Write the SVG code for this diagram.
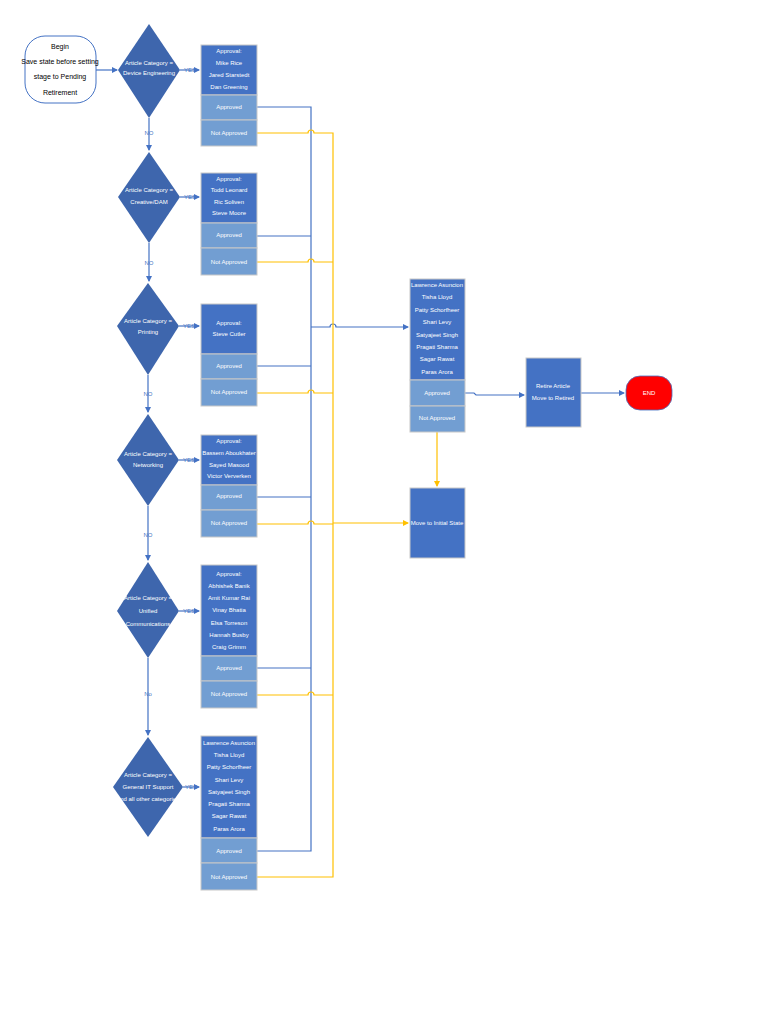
<svg xmlns="http://www.w3.org/2000/svg" width="768" height="1024" viewBox="0 0 768 1024">
<defs>
<style>
text{font-family:"Liberation Sans",Arial,sans-serif;fill:#fff;font-size:6px;text-anchor:middle}
.dia{fill:#3e66ad}
.top{fill:#4472c4;stroke:#c8c8c8;stroke-width:1}
.sub{fill:#729ed2;stroke:#c8c8c8;stroke-width:1}
.b{stroke:#4472c4;stroke-width:1.2;fill:none}
.y{stroke:#ffc000;stroke-width:1.2;fill:none}
.lbl{fill:#4472c4;font-size:6px}
</style>
<marker id="ab" markerWidth="6" markerHeight="6" refX="5" refY="3" orient="auto" markerUnits="userSpaceOnUse"><path d="M0,0L6,3L0,6z" fill="#4472c4"/></marker>
<marker id="ay" markerWidth="6" markerHeight="6" refX="5" refY="3" orient="auto" markerUnits="userSpaceOnUse"><path d="M0,0L6,3L0,6z" fill="#ffc000"/></marker>
</defs>
<rect width="768" height="1024" fill="#fff"/>

<g id="connectors">
<path class="b" d="M96,70H117" marker-end="url(#ab)"/>
<path class="b" d="M149,118V150" marker-end="url(#ab)"/>
<path class="b" d="M149,243V281" marker-end="url(#ab)"/>
<path class="b" d="M148,375V412" marker-end="url(#ab)"/>
<path class="b" d="M148,506V560" marker-end="url(#ab)"/>
<path class="b" d="M148,658V735" marker-end="url(#ab)"/>
<path class="b" d="M180,70H199" marker-end="url(#ab)"/>
<path class="b" d="M180,197H199" marker-end="url(#ab)"/>
<path class="b" d="M179,326H199" marker-end="url(#ab)"/>
<path class="b" d="M179,460H199" marker-end="url(#ab)"/>
<path class="b" d="M179,611H199" marker-end="url(#ab)"/>
<path class="b" d="M183,787H199" marker-end="url(#ab)"/>
<path class="b" d="M257,107H311V851H257"/>
<path class="b" d="M257,236H311M257,366H311M257,497H311M257,668H311"/>
<path class="b" d="M311,327H330a3,3 0 0 1 6,0H408" marker-end="url(#ab)"/>
<path class="y" d="M257,133H308a3,3 0 0 1 6,0H333V877H257"/>
<path class="y" d="M257,262H308a3,3 0 0 1 6,0H333"/>
<path class="y" d="M257,393H308a3,3 0 0 1 6,0H333"/>
<path class="y" d="M257,524H308a3,3 0 0 1 6,0H333"/>
<path class="y" d="M257,695H308a3,3 0 0 1 6,0H333"/>
<path class="y" stroke-width="2" d="M333,523H408" marker-end="url(#ay)"/>
<path class="y" d="M437,432V486" marker-end="url(#ay)"/>
<path class="b" d="M465,393H474L476,395H524" marker-end="url(#ab)"/>
<path class="b" d="M581,393H624" marker-end="url(#ab)"/>
<text class="lbl" x="190" y="72">YES</text>
<text class="lbl" x="190" y="199">YES</text>
<text class="lbl" x="189" y="328">YES</text>
<text class="lbl" x="189" y="462">YES</text>
<text class="lbl" x="189" y="613">YES</text>
<text class="lbl" x="191" y="789">YES</text>
<text class="lbl" x="149" y="135">NO</text>
<text class="lbl" x="149" y="265">NO</text>
<text class="lbl" x="148" y="396">NO</text>
<text class="lbl" x="148" y="537">NO</text>
<text class="lbl" x="148" y="696">No</text>
</g>

<g id="begin"><rect x="25" y="36" width="71" height="67" rx="20" fill="#fff" stroke="#4472c4" stroke-width="1"/>
<text style="fill:#000;font-size:7px" x="60" y="49">Begin</text>
<text style="fill:#000;font-size:7px" x="60" y="64">Save state before setting</text>
<text style="fill:#000;font-size:7px" x="60" y="79">stage to Pending</text>
<text style="fill:#000;font-size:7px" x="60" y="95">Retirement</text></g>

<g id="d1"><polygon class="dia" points="149,24 180,70 149,118 118,70"/><text x="149" y="65">Article Category =</text><text x="149" y="75">Device Engineering</text></g>
<g id="d2"><polygon class="dia" points="149,152 180,197 149,243 118,197"/><text x="149" y="192">Article Category =</text><text x="149" y="204">Creative/DAM</text></g>
<g id="d3"><polygon class="dia" points="148,283 179,326 148,375 117,326"/><text x="148" y="323">Article Category =</text><text x="148" y="334">Printing</text></g>
<g id="d4"><polygon class="dia" points="148,414 179,460 148,506 117,460"/><text x="148" y="456">Article Category =</text><text x="148" y="467">Networking</text></g>
<g id="d5"><polygon class="dia" points="148,562 179,611 148,658 117,611"/><text x="148" y="600">Article Category =</text><text x="148" y="613">Unified</text><text x="148" y="626">Communications</text></g>
<g id="d6"><polygon class="dia" points="148,737 183,787 148,837 113,787"/><text x="148" y="777">Article Category =</text><text x="148" y="789">General IT Support</text><text x="148" y="801">and all other categories</text></g>

<g id="b1"><rect class="top" x="201" y="45" width="56" height="50"/><rect class="sub" x="201" y="95" width="56" height="25"/><rect class="sub" x="201" y="120" width="56" height="26"/>
<text x="229" y="53">Approval:</text><text x="229" y="65">Mike Rice</text><text x="229" y="77">Jared Starstedt</text><text x="229" y="89">Dan Greening</text>
<text x="229" y="109">Approved</text><text x="229" y="135">Not Approved</text></g>
<g id="b2"><rect class="top" x="201" y="173" width="56" height="50"/><rect class="sub" x="201" y="223" width="56" height="25"/><rect class="sub" x="201" y="248" width="56" height="27"/>
<text x="229" y="181">Approval:</text><text x="229" y="192">Todd Leonard</text><text x="229" y="204">Ric Soliven</text><text x="229" y="215">Steve Moore</text>
<text x="229" y="237">Approved</text><text x="229" y="264">Not Approved</text></g>
<g id="b3"><rect class="top" x="201" y="304" width="56" height="50"/><rect class="sub" x="201" y="354" width="56" height="25"/><rect class="sub" x="201" y="379" width="56" height="27"/>
<text x="229" y="325">Approval:</text><text x="229" y="336">Steve Cutler</text>
<text x="229" y="368">Approved</text><text x="229" y="394">Not Approved</text></g>
<g id="b4"><rect class="top" x="201" y="435" width="56" height="50"/><rect class="sub" x="201" y="485" width="56" height="25"/><rect class="sub" x="201" y="510" width="56" height="27"/>
<text x="229" y="443">Approval:</text><text x="229" y="455">Bassem Aboukhater</text><text x="229" y="467">Sayed Masood</text><text x="229" y="478">Victor Ververken</text>
<text x="229" y="498">Approved</text><text x="229" y="525">Not Approved</text></g>
<g id="b5"><rect class="top" x="201" y="565" width="56" height="91"/><rect class="sub" x="201" y="656" width="56" height="25"/><rect class="sub" x="201" y="681" width="56" height="27"/>
<text x="229" y="576">Approval:</text><text x="229" y="588">Abhishek Banik</text><text x="229" y="600">Amit Kumar Rai</text><text x="229" y="612">Vinay Bhatia</text><text x="229" y="625">Elsa Torreson</text><text x="229" y="637">Hannah Busby</text><text x="229" y="649">Craig Grimm</text>
<text x="229" y="670">Approved</text><text x="229" y="696">Not Approved</text></g>
<g id="b6"><rect class="top" x="201" y="736" width="56" height="102"/><rect class="sub" x="201" y="838" width="56" height="25"/><rect class="sub" x="201" y="863" width="56" height="27"/>
<text x="229" y="745">Lawrence Asuncion</text><text x="229" y="757">Tisha Lloyd</text><text x="229" y="769">Patty Schorfheer</text><text x="229" y="782">Shari Levy</text><text x="229" y="794">Satyajeet Singh</text><text x="229" y="806">Pragati Sharma</text><text x="229" y="818">Sagar Rawat</text><text x="229" y="831">Paras Arora</text>
<text x="229" y="853">Approved</text><text x="229" y="879">Not Approved</text></g>
<g id="b7"><rect class="top" x="410" y="279" width="55" height="101"/><rect class="sub" x="410" y="380" width="55" height="26"/><rect class="sub" x="410" y="406" width="55" height="26"/>
<text x="437" y="287">Lawrence Asuncion</text><text x="437" y="299">Tisha Lloyd</text><text x="437" y="312">Patty Schorfheer</text><text x="437" y="324">Shari Levy</text><text x="437" y="337">Satyajeet Singh</text><text x="437" y="349">Pragati Sharma</text><text x="437" y="361">Sagar Rawat</text><text x="437" y="374">Paras Arora</text>
<text x="437" y="395">Approved</text><text x="437" y="420">Not Approved</text></g>
<g id="initial"><rect class="top" x="410" y="488" width="55" height="70"/><text x="437" y="525">Move to Initial State</text></g>
<g id="retire"><rect class="top" x="526" y="358" width="55" height="69"/><text x="553" y="388">Retire Article</text><text x="553" y="400">Move to Retired</text></g>
<g id="end"><rect x="626" y="376" width="46" height="34" rx="14" fill="#f00" stroke="#4472c4" stroke-width="0.8"/><text x="649" y="395">END</text></g>
</svg>
